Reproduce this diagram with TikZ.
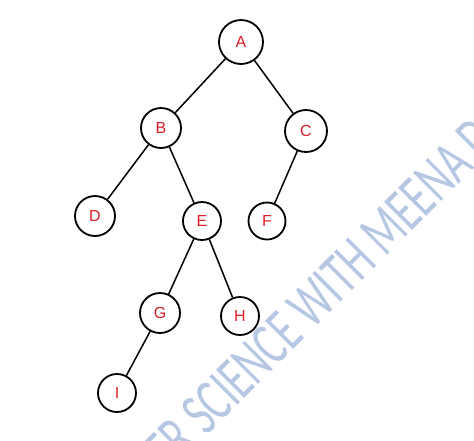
\documentclass[tikz,border=0pt]{standalone}
\usepackage{fontspec}
\newfontfamily\wmfont{Carlito}
\newfontfamily\lblfont{Liberation Sans}
\definecolor{lblred}{RGB}{220,30,40}
\definecolor{wmblue}{RGB}{182,199,228}
\begin{document}
\begin{tikzpicture}[x=1pt,y=-1pt,
  tnode/.style={circle,draw=black,fill=white,line width=1.8pt,minimum size=40pt,inner sep=0pt,
    font=\lblfont\fontsize{16}{16}\selectfont,text=lblred},
  edge/.style={line width=1.5pt,black},
  wmark/.style={transform shape,anchor=base west,inner sep=0pt,text=wmblue,
    font=\wmfont\fontsize{62}{62}\selectfont}]
\useasboundingbox (0,0) rectangle (474,440);
\begin{scope}
  \clip (0,0) rectangle (474,440);
  \begin{scope}[shift={(206,437)}, rotate=45, xscale=0.67]
    \node[wmark] (wm) at (0,0) {\llap{COMPUTER }SCIENCE WITH MEENA D};
  \end{scope}
\end{scope}
\node[tnode, minimum size=44pt] (A) at (241,42) {A};
\node[tnode] (B) at (161,128) {B};
\node[tnode, minimum size=42pt] (C) at (306,131) {C};
\node[tnode] (D) at (95,216) {D};
\node[tnode, minimum size=38pt] (E) at (202,221) {E};
\node[tnode, minimum size=37pt] (F) at (267,221) {F};
\node[tnode] (G) at (160,313) {G};
\node[tnode, minimum size=38pt] (H) at (240,316) {H};
\node[tnode, minimum size=38pt] (I) at (117,393) {I};
\draw[edge] (A) -- (B);
\draw[edge] (A) -- (C);
\draw[edge] (B) -- (D);
\draw[edge] (B) -- (E);
\draw[edge] (C) -- (F);
\draw[edge] (E) -- (G);
\draw[edge] (E) -- (H);
\draw[edge] (G) -- (I);
\end{tikzpicture}
\end{document}
